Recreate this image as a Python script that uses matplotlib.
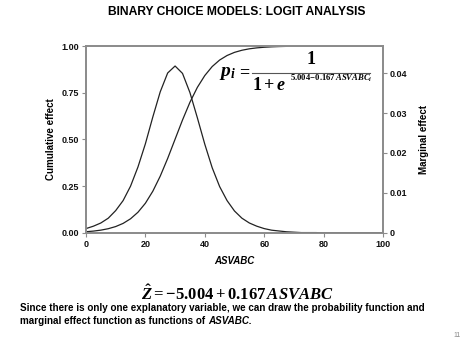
import matplotlib
matplotlib.use("Agg")
import matplotlib.pyplot as plt
from matplotlib.lines import Line2D

plt.rcParams['font.family'] = ['Liberation Sans', 'DejaVu Sans']
plt.rcParams['mathtext.fontset'] = 'custom'
plt.rcParams['mathtext.rm'] = 'Liberation Serif:bold'
plt.rcParams['mathtext.it'] = 'Liberation Serif:bold:italic'
plt.rcParams['mathtext.bf'] = 'Liberation Serif:bold'

# values (step 2.5 in ASVABC)
asvabc = [0, 2.5, 5, 7.5, 10, 12.5, 15, 17.5, 20, 22.5, 25, 27.5, 30, 32.5, 35, 37.5,
          40, 42.5, 45, 47.5, 50, 52.5, 55, 57.5, 60, 62.5, 65, 67.5, 70, 72.5, 75,
          77.5, 80, 82.5, 85, 87.5, 90, 92.5, 95, 97.5, 100]
cumulative = [0.0067, 0.0101, 0.0152, 0.0229, 0.0344, 0.0513, 0.0759, 0.1109, 0.159,
              0.2233, 0.304, 0.3986, 0.5015, 0.6043, 0.699, 0.7788, 0.842, 0.8903,
              0.925, 0.9492, 0.966, 0.9773, 0.985, 0.990, 0.9934, 0.9956, 0.9971,
              0.9981, 0.9988, 0.9992, 0.9995, 0.9996, 0.9998, 0.9998, 0.9999, 0.9999,
              1.0, 1.0, 1.0, 1.0, 1.0]
marginal = [0.0011, 0.0017, 0.0025, 0.0037, 0.0056, 0.0081, 0.0117, 0.0165, 0.0223,
            0.0290, 0.0353, 0.0400, 0.04175, 0.0399, 0.0351, 0.0288, 0.0222, 0.0163,
            0.0116, 0.0081, 0.0055, 0.0037, 0.0025, 0.0017, 0.0011, 0.0007, 0.0005,
            0.0003, 0.0002, 0.0001, 0.0001, 0.0001, 0.0, 0.0, 0.0, 0.0, 0.0, 0.0,
            0.0, 0.0, 0.0]

left_ticks = [0, 0.25, 0.5, 0.75, 1.0]
right_ticks = [0, 0.01, 0.02, 0.03, 0.04]
right_labels = ['0', '0.01', '0.02', '0.03', '0.04']
x_ticks = [0, 20, 40, 60, 80, 100]

spine_col = '#8c8c8c'
line_col = '#222222'
W, H = 474.0, 355.0


def px(x, y):
    # pixel position (from top-left) -> figure fraction
    return x / W, 1 - y / H


fig = plt.figure(figsize=(4.74, 3.55), dpi=100)
fig.patch.set_facecolor('white')
ax = fig.add_axes([0.1814, 0.3437, 0.6266, 0.5267])
ax2 = ax.twinx()

ax.plot(asvabc, cumulative, color=line_col, lw=0.9)
ax2.plot(asvabc, marginal, color=line_col, lw=0.9)

ax.set_xlim(0, 100)
ax.set_ylim(0, 1.0)
ax2.set_ylim(0, 0.04675)
ax.set_xticks(x_ticks)
ax.set_xticklabels([str(v) for v in x_ticks], fontsize=6.5, fontweight='bold')
ax.set_yticks(left_ticks)
ax.set_yticklabels(['%.2f' % v for v in left_ticks], fontsize=6.5, fontweight='bold')
ax2.set_yticks(right_ticks)
ax2.set_yticklabels(right_labels, fontsize=6.5, fontweight='bold')

for a in (ax, ax2):
    for s in a.spines.values():
        s.set_color(spine_col)
        s.set_linewidth(1.3)
    a.tick_params(colors=spine_col, labelcolor='#111111', length=3, width=0.8, pad=2)

ax.set_ylabel('Cumulative effect', fontsize=7, fontweight='bold', labelpad=4)
ax2.set_ylabel('Marginal effect', fontsize=7, fontweight='bold', labelpad=8)
ax.set_xlabel('ASVABC', fontsize=7, fontweight='bold', style='italic', labelpad=5)

# logit formula drawn in pieces
fig.text(*px(219, 74), r'$p_i$', fontsize=14, ha='left', va='center')
fig.text(*px(237, 72), r'$=$', fontsize=13, ha='left', va='center')
fig.add_artist(Line2D([252 / W, 370 / W], [1 - 72.5 / H, 1 - 72.5 / H],
                      color='#555555', lw=0.8, transform=fig.transFigure))
fig.text(*px(311, 59), r'$1$', fontsize=13, ha='center', va='center')
fig.text(*px(252, 85), r'$1+e$', fontsize=13, ha='left', va='center')
fig.text(*px(290, 78), r'$5.004\!-\!0.167\,ASVABC_i$', fontsize=6.2, ha='left',
         va='center')

fig.text(0.5, 0.965, 'BINARY CHOICE MODELS: LOGIT ANALYSIS', fontsize=8.7,
         fontweight='bold', ha='center', va='center')
fig.text(0.5, 0.175, r'$\hat{Z} = -5.004 + 0.167\,ASVABC$', fontsize=12,
         ha='center', va='center')

line1 = 'Since there is only one explanatory variable, we can draw the probability function and'
line2 = 'marginal effect function as functions of '
fig.text(0.042, 0.132, line1, fontsize=7.1, fontweight='bold', va='center')
t2 = fig.text(0.042, 0.095, line2, fontsize=7.1, fontweight='bold', va='center')
fig.canvas.draw()
bb = t2.get_window_extent()
x_end = bb.x1 / fig.bbox.width
fig.text(x_end, 0.095, 'ASVABC.', fontsize=7.1, fontweight='bold', style='italic',
         va='center')

fig.text(0.972, 0.056, '11', fontsize=5, color='#8a8a8a', ha='right', va='center')

fig.savefig('out.png', dpi=100)
